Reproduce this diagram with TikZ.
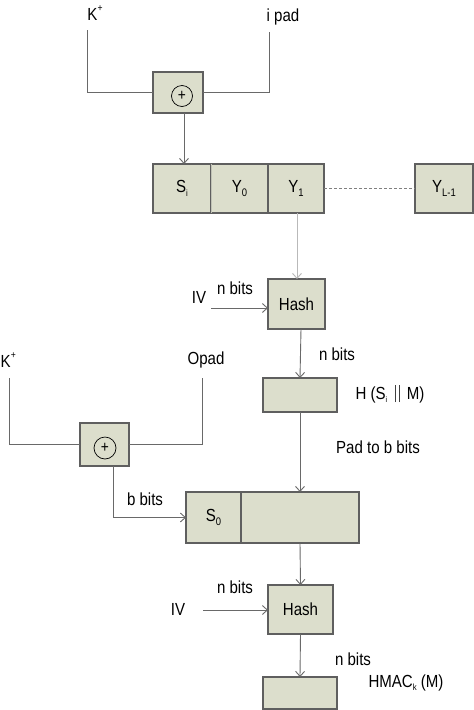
\documentclass[tikz,border=0pt]{standalone}
\usepackage{fontspec}
\setmainfont{Liberation Sans}[FakeStretch=0.86]
\usetikzlibrary{arrows.meta}
\definecolor{boxfill}{RGB}{220,222,204}
\definecolor{boxline}{RGB}{95,95,95}
\definecolor{conn}{RGB}{105,105,105}
\newcommand{\mysub}[2][10]{\raisebox{-0.35ex}{\fontsize{#1}{#1}\selectfont #2}}
\newcommand{\mysup}[1]{\raisebox{0.9ex}{\fontsize{10}{10}\selectfont #1}}
\newcommand{\dbar}{{\color{black!75}\rule[-3pt]{1.2pt}{17pt}\hspace{2.2pt}\rule[-3pt]{1.2pt}{17pt}}}
\begin{document}
\begin{tikzpicture}[x=1pt,y=-1pt,
  font=\fontsize{17.5}{20}\selectfont,
  cell/.style={draw=boxline,fill=boxfill,line width=1.2pt,inner sep=0pt,outer sep=0pt},
  wire/.style={draw=conn,line width=0.9pt},
  arr/.style={wire,-{Straight Barb[length=5pt,width=9pt]}},
  lbl/.style={inner sep=0pt}]
\useasboundingbox (0,0) rectangle (474,710);
% top XOR
\node[cell,minimum width=50pt,minimum height=41pt] (x1) at (178,92.5) {};
\node[draw=black,circle,minimum size=21pt,inner sep=0pt,line width=0.7pt] (c1) at (182,96) {\fontsize{16}{16}\selectfont +};
\node[lbl] (kp1) at (95,13) {K\mysup{+}};
\node[lbl] (ipad) at (283,17) {i pad};
\coordinate (k1a) at (87,30);
\coordinate (ip1) at (269,32);
\draw[wire] (k1a) |- (x1.west);
\draw[wire] (ip1) |- (x1.east);
% register
\node[cell,minimum width=58pt,minimum height=49pt] (si) at (182,188.5) {S\mysub[9]{i}};
\node[cell,minimum width=57pt,minimum height=49pt] (y0) at (239.5,188.5) {Y\mysub[11]{0}};
\node[cell,minimum width=56pt,minimum height=49pt] (y1) at (296,188.5) {Y\mysub[11]{1}};
\draw[draw=boxfill!70!gray,line width=1pt] (si.north east) -- (si.south east);
\node[cell,minimum width=58pt,minimum height=49pt] (yl) at (444,188.5) {Y\mysub[11]{L-1}};
\draw[arr] ([xshift=6pt]x1.south) -- ([xshift=2pt]si.north);
\draw[draw=gray,line width=0.6pt,dash pattern=on 3pt off 2pt] (y1.east) -- (yl.west);
% first hash
\node[cell,minimum width=57pt,minimum height=50pt] (h1) at (296.5,304) {Hash};
\draw[arr,draw=gray!55] ([xshift=1pt]y1.south) -- ([xshift=0.5pt]h1.north);
\node[lbl] (iv1) at (199,297) {IV};
\node[lbl] (nb1) at (235,288) {n bits};
\coordinate (iv1s) at (211,308);
\draw[arr] (iv1s) -- (iv1s -| h1.west);
\node[cell,minimum width=74pt,minimum height=34pt] (hm) at (300,395) {};
\draw[arr] ([xshift=4.5pt]h1.south) -- (hm.north);
\node[lbl] (nb2) at (337,354) {n bits};
\node[lbl] (hlab) at (390,394) {H (S\mysub[8]{i}\hspace{8pt}\dbar\hspace{7pt}M)};
\node[lbl] (pad) at (378,447) {Pad to b bits};
% second XOR
\node[cell,minimum width=49pt,minimum height=43pt] (x2) at (104.5,444.5) {};
\node[draw=black,circle,minimum size=22pt,inner sep=0pt,line width=0.7pt] (c2) at (105,448) {\fontsize{16}{16}\selectfont +};
\node[lbl,anchor=east] (kp2) at (16,360) {K\mysup{+}};
\node[lbl] (opad) at (206,360) {Opad};
\coordinate (k2a) at (9,378);
\coordinate (op2) at (202,378);
\draw[wire] (k2a) |- (x2.west);
\draw[wire] (op2) |- (x2.east);
% S0 + block
\node[cell,minimum width=55pt,minimum height=51pt] (s0) at (213.5,517.5) {S\mysub[11]{0}};
\node[cell,minimum width=118pt,minimum height=51pt] (big) at (300,517.5) {};
\draw[draw=boxline,line width=1.6pt] (s0.north east) -- (s0.south east);
\draw[arr] (hm.south) -- (big.north);
\node[lbl] (bb) at (145,499) {b bits};
\coordinate (x2d) at (113,466);
\draw[arr] (x2d) |- (s0.west);
% second hash
\node[cell,minimum width=65pt,minimum height=49pt] (h2) at (300.5,609.5) {Hash};
\draw[arr] (big.south) -- (h2.north);
\node[lbl] (iv2) at (178,609) {IV};
\node[lbl] (nb3) at (235,587) {n bits};
\coordinate (iv2s) at (203,610);
\draw[arr] (iv2s) -- (iv2s -| h2.west);
\node[cell,minimum width=74pt,minimum height=32pt] (out) at (300,693) {};
\draw[arr] (h2.south) -- (out.north);
\node[lbl] (nb4) at (353,659) {n bits};
\node[lbl] (hmac) at (406,683) {HMAC\mysub[9]{k} (M)};
\end{tikzpicture}
\end{document}
